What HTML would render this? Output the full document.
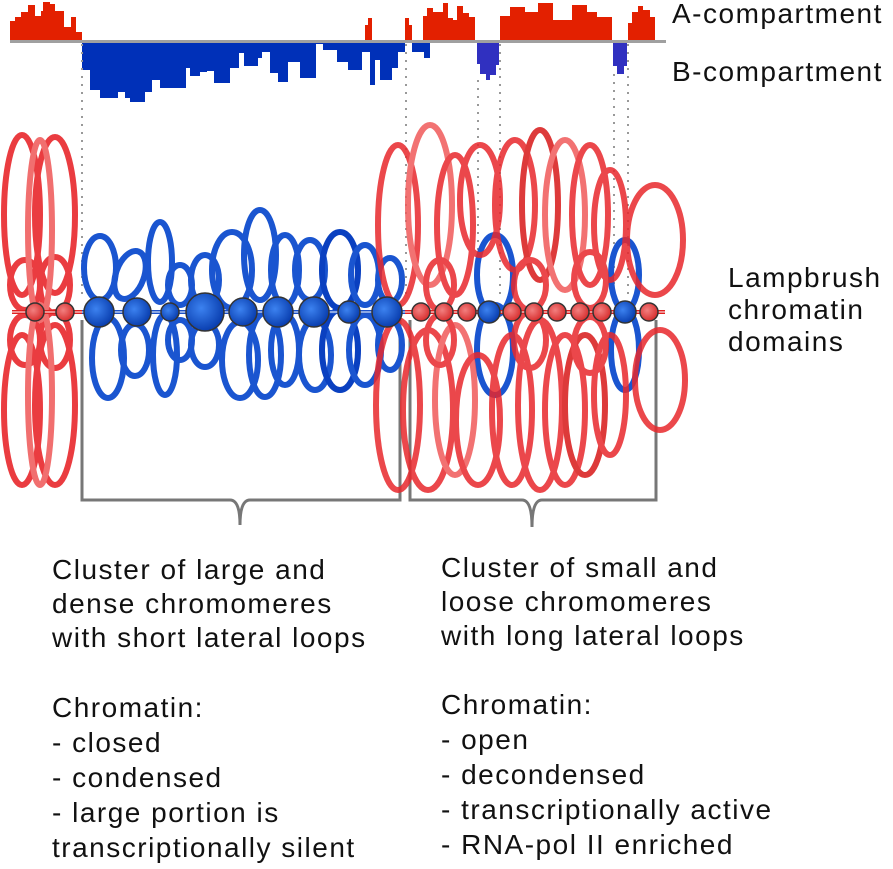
<!DOCTYPE html>
<html><head><meta charset="utf-8"><style>
body{margin:0;background:#fff;width:893px;height:869px;overflow:hidden;font-family:"Liberation Sans",sans-serif}
.t{position:absolute;font-size:28px;letter-spacing:1.5px;line-height:34px;color:#111;white-space:nowrap}
</style></head><body>
<svg width="893" height="869" style="position:absolute;left:0;top:0">
<g fill="#e32000">
<path d="M10 41V21H15V17H21V12H28V5H35V16H41V11H43V2H50V4H55V11H64V27H71V17H76V32H82V41Z"/>
<path d="M365 41V25H368V18H372V41Z"/>
<path d="M405 41V18H409V25H412V41Z"/>
<path d="M423 41V16H427V8H433V12H443V3H448V18H453V20H457V6H463V13H469V17H475V41Z"/>
<path d="M500 41V16H510V7H525V12H538V3H553V20H572V5H587V12H597V17H612V41Z"/>
<path d="M628 41V23H632V12H638V6H643V10H650V17H655V41Z"/>
</g>
<g fill="#0030b8">
<path d="M82 43H405V52H398V68H392V80H380V60H375V85H370V52H362V70H348V62H337V50H323V44H316V78H300V62H288V82H278V73H270V52H262V58H258V66H244V53H239V68H230V83H214V71H207V72H200V76H190V68H186V88H170V88H160V80H152V92H145V102H130V98H125V92H118V98H100V90H90V70H82Z"/>
<path d="M412 43H430V58H424V52H412Z"/>
</g>
<g fill="#3030c0">
<path d="M477 43H499V65H496V75H490V80H486V74H480V64H477Z"/>
<path d="M613 43H627V66H624V74H617V66H613Z"/>
</g>
<rect x="10" y="40" width="656" height="3" fill="#a0a0a0"/>
<g stroke="#999" stroke-width="2" stroke-dasharray="2,6">
<line x1="82" y1="44" x2="82" y2="300"/><line x1="406" y1="44" x2="406" y2="300"/>
<line x1="478" y1="80" x2="478" y2="300"/><line x1="500" y1="44" x2="500" y2="300"/>
<line x1="614" y1="74" x2="614" y2="300"/><line x1="628" y1="44" x2="628" y2="300"/>
</g>
<g stroke="#777" stroke-width="3" fill="none">
<path d="M82 320V500H230Q240 500 240 525Q240 500 250 500H400V320"/>
<path d="M410 320V500H522Q532 500 532 527Q532 500 542 500H656V320"/>
</g>
<g fill="none" stroke="#e8282c" stroke-width="6" opacity="0.9">
<ellipse cx="22" cy="215" rx="18" ry="80"/><ellipse cx="55" cy="215" rx="20" ry="78"/>
<ellipse cx="22" cy="410" rx="18" ry="75"/><ellipse cx="55" cy="405" rx="20" ry="80"/>
<ellipse cx="25" cy="285" rx="15" ry="25"/><ellipse cx="55" cy="285" rx="15" ry="28"/>
<ellipse cx="25" cy="340" rx="15" ry="25"/><ellipse cx="55" cy="340" rx="15" ry="28"/>
<ellipse cx="40" cy="230" rx="12" ry="90" stroke="#f06060"/>
<ellipse cx="40" cy="395" rx="12" ry="90" stroke="#f06060"/>
</g>
<g fill="none" stroke="#1a55d0" stroke-width="6">
<ellipse cx="100" cy="268" rx="16" ry="32"/><ellipse cx="108" cy="358" rx="16" ry="40"/>
<ellipse cx="130" cy="275" rx="14" ry="25" transform="rotate(20 130 275)"/><ellipse cx="135" cy="350" rx="14" ry="26"/>
<ellipse cx="160" cy="262" rx="12" ry="40"/><ellipse cx="165" cy="355" rx="12" ry="40"/>
<ellipse cx="180" cy="285" rx="12" ry="20"/><ellipse cx="180" cy="340" rx="12" ry="20"/>
<ellipse cx="205" cy="280" rx="14" ry="25"/><ellipse cx="205" cy="345" rx="14" ry="22"/>
<ellipse cx="232" cy="270" rx="20" ry="38"/><ellipse cx="240" cy="360" rx="18" ry="38"/>
<ellipse cx="260" cy="255" rx="16" ry="45"/><ellipse cx="265" cy="355" rx="16" ry="42"/>
<ellipse cx="285" cy="270" rx="14" ry="35"/><ellipse cx="285" cy="350" rx="14" ry="35"/>
<ellipse cx="310" cy="270" rx="15" ry="30"/><ellipse cx="315" cy="355" rx="16" ry="35"/>
<ellipse cx="340" cy="270" rx="18" ry="38" stroke="#0a40c0"/><ellipse cx="340" cy="350" rx="18" ry="40" stroke="#0a40c0"/>
<ellipse cx="365" cy="275" rx="14" ry="30"/><ellipse cx="365" cy="350" rx="16" ry="35"/>
<ellipse cx="390" cy="280" rx="12" ry="22"/><ellipse cx="390" cy="345" rx="12" ry="25"/>
<ellipse cx="495" cy="275" rx="18" ry="40"/><ellipse cx="495" cy="350" rx="18" ry="45"/>
<ellipse cx="625" cy="275" rx="14" ry="35"/><ellipse cx="625" cy="350" rx="14" ry="40"/>
</g>
<g fill="none" stroke="#e8282c" stroke-width="6" opacity="0.85">
<ellipse cx="398" cy="225" rx="20" ry="80"/><ellipse cx="398" cy="405" rx="22" ry="85"/>
<ellipse cx="430" cy="205" rx="22" ry="80" stroke="#f05a5a"/><ellipse cx="428" cy="410" rx="25" ry="80"/>
<ellipse cx="455" cy="225" rx="18" ry="70"/><ellipse cx="455" cy="400" rx="20" ry="75" stroke="#f05a5a"/>
<ellipse cx="480" cy="200" rx="20" ry="55"/><ellipse cx="478" cy="420" rx="22" ry="65"/>
<ellipse cx="515" cy="205" rx="20" ry="65"/><ellipse cx="512" cy="410" rx="20" ry="75"/>
<ellipse cx="540" cy="205" rx="18" ry="75" stroke="#d81818"/><ellipse cx="540" cy="405" rx="22" ry="85"/>
<ellipse cx="565" cy="215" rx="20" ry="75" stroke="#f05a5a"/><ellipse cx="565" cy="410" rx="20" ry="75"/>
<ellipse cx="590" cy="215" rx="18" ry="70"/><ellipse cx="585" cy="405" rx="20" ry="70" stroke="#d81818"/>
<ellipse cx="610" cy="225" rx="16" ry="55"/><ellipse cx="610" cy="395" rx="16" ry="60"/>
<ellipse cx="655" cy="240" rx="28" ry="55"/><ellipse cx="660" cy="380" rx="25" ry="50"/>
<ellipse cx="440" cy="285" rx="14" ry="25"/><ellipse cx="440" cy="340" rx="14" ry="25"/>
<ellipse cx="530" cy="285" rx="16" ry="25"/><ellipse cx="530" cy="340" rx="16" ry="28"/>
<ellipse cx="590" cy="280" rx="16" ry="28"/><ellipse cx="590" cy="345" rx="16" ry="28"/>
</g>
<line x1="12" y1="312" x2="665" y2="312" stroke="#e02020" stroke-width="4"/>
<line x1="12" y1="312" x2="665" y2="312" stroke="#fff" stroke-width="1"/>
<line x1="82" y1="312" x2="405" y2="312" stroke="#1a50c8" stroke-width="4"/>
<line x1="82" y1="312" x2="405" y2="312" stroke="#fff" stroke-width="1"/>
<defs>
<radialGradient id="rb" cx="0.4" cy="0.4" r="0.6"><stop offset="0" stop-color="#3c82f0"/><stop offset="1" stop-color="#0a3fb0"/></radialGradient>
<radialGradient id="rr" cx="0.4" cy="0.4" r="0.6"><stop offset="0" stop-color="#f28080"/><stop offset="1" stop-color="#d83030"/></radialGradient>
</defs>
<g stroke="#333" stroke-width="1.5">
<circle cx="35" cy="312" r="9" fill="url(#rr)"/><circle cx="65" cy="312" r="9" fill="url(#rr)"/>
<circle cx="99" cy="312" r="15" fill="url(#rb)"/><circle cx="137" cy="312" r="14" fill="url(#rb)"/>
<circle cx="170" cy="312" r="9" fill="url(#rb)"/><circle cx="205" cy="312" r="19" fill="url(#rb)"/>
<circle cx="243" cy="312" r="14" fill="url(#rb)"/><circle cx="278" cy="312" r="15" fill="url(#rb)"/>
<circle cx="314" cy="312" r="15" fill="url(#rb)"/><circle cx="349" cy="312" r="11" fill="url(#rb)"/>
<circle cx="387" cy="312" r="15" fill="url(#rb)"/>
<circle cx="421" cy="312" r="9" fill="url(#rr)"/><circle cx="444" cy="312" r="9" fill="url(#rr)"/>
<circle cx="467" cy="312" r="9" fill="url(#rr)"/><circle cx="489" cy="312" r="11" fill="url(#rb)"/>
<circle cx="512" cy="312" r="9" fill="url(#rr)"/><circle cx="534" cy="312" r="9" fill="url(#rr)"/>
<circle cx="557" cy="312" r="9" fill="url(#rr)"/><circle cx="580" cy="312" r="9" fill="url(#rr)"/>
<circle cx="602" cy="312" r="9" fill="url(#rr)"/><circle cx="625" cy="312" r="11" fill="url(#rb)"/>
<circle cx="649" cy="312" r="9" fill="url(#rr)"/>
</g>
</svg>
<div class="t" style="left:672px;top:-3px">A-compartment</div>
<div class="t" style="left:672px;top:55px">B-compartment</div>
<div class="t" style="left:728px;top:262px;line-height:32px">Lampbrush<br>chromatin<br>domains</div>
<div class="t" style="left:52px;top:553px">Cluster of large and<br>dense chromomeres<br>with short lateral loops</div>
<div class="t" style="left:52px;top:690px;line-height:35px">Chromatin:<br>- closed<br>- condensed<br>- large portion is<br>transcriptionally silent</div>
<div class="t" style="left:441px;top:551px">Cluster of small and<br>loose chromomeres<br>with long lateral loops</div>
<div class="t" style="left:441px;top:687px;line-height:35px">Chromatin:<br>- open<br>- decondensed<br>- transcriptionally active<br>- RNA-pol II enriched</div>
</body></html>
